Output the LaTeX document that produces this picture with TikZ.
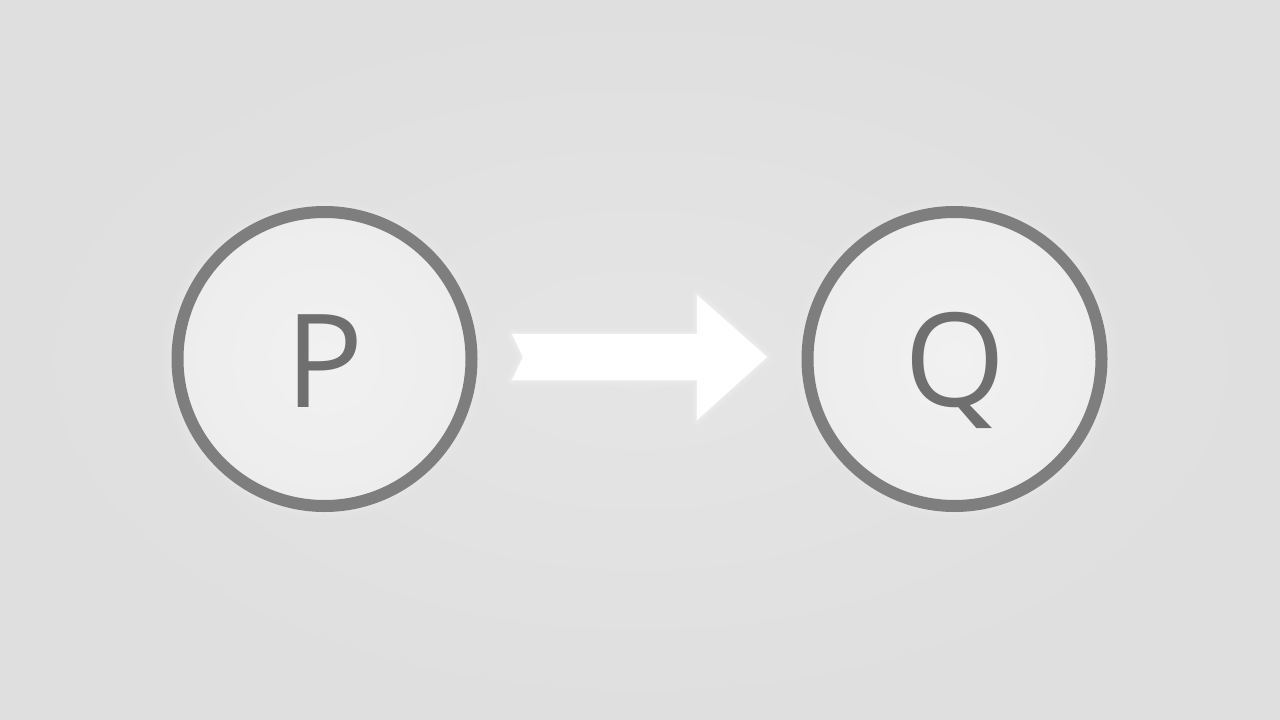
\documentclass[tikz,border=0pt]{standalone}
\usepackage{fontspec}
\setmainfont{Open Sans}
\begin{document}
\begin{tikzpicture}[x=1pt,y=-1pt,
  ring/.style={circle, draw=ringgray, line width=12pt, minimum size=294pt, inner sep=0pt,
    inner color=innerlight, outer color=innerdark},
  letter/.style={anchor=base, text=lettergray, inner sep=0pt,
    font=\fontsize{130}{130}\selectfont},
  blockarrow/.style={fill=white, draw=none}]
\definecolor{ringgray}{HTML}{7E7E7E}
\definecolor{lettergray}{HTML}{6F6F6F}
\definecolor{bgcenter}{HTML}{E5E5E5}
\definecolor{bgedge}{HTML}{DFDFDF}
\definecolor{innerlight}{HTML}{F1F1F1}
\definecolor{innerdark}{HTML}{EDEDED}
% background
\path[inner color=bgcenter, outer color=bgedge] (0,0) rectangle (1280,720);
\useasboundingbox (0,0) rectangle (1280,720);
\coordinate (Pc) at (324.5,359);
\coordinate (Qc) at (954.5,359);
% soft glow round circles
\foreach \n in {Pc,Qc}{
  \foreach \w/\o in {26/0.05,18/0.07,10/0.1}{
    \draw[white, line width=\w pt, opacity=\o] (\n) circle[radius=147pt];
  }
}
% circles
\node[ring] (P) at (Pc) {};
\node[ring] (Q) at (Qc) {};
\node[letter] (Plab) at (325,407) {P};
\node[letter] (Qlab) at (955,406) {Q};
% arrow glow
\foreach \w/\o in {14/0.06,9/0.08,5/0.12,2/0.2}{
  \draw[white, line width=\w pt, opacity=\o, line join=round]
    (512,334) -- (697,334) -- (697,295) -- (767,357) -- (697,420) -- (697,380) -- (512,380) -- (523,357) -- cycle;
}
% arrow
\fill[blockarrow] (512,334) -- (697,334) -- (697,295) -- (767,357) -- (697,420) -- (697,380) -- (512,380) -- (523,357) -- cycle;
\end{tikzpicture}
\end{document}
